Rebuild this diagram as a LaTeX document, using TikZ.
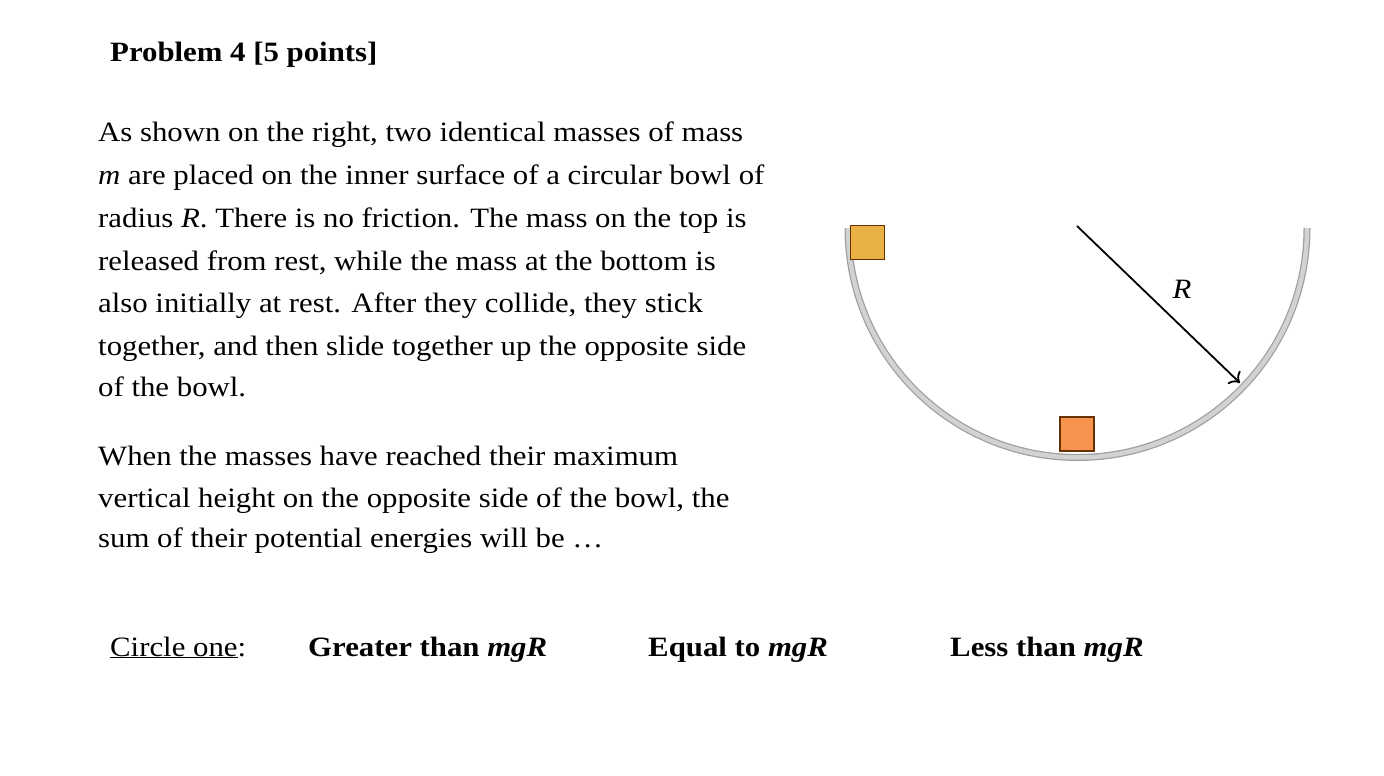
\documentclass[tikz,border=0pt]{standalone}
\usepackage{fontspec}
\setmainfont[FakeStretch=1.1]{Liberation Serif}
\usetikzlibrary{arrows.meta}
\begin{document}
\begin{tikzpicture}[x=1pt,y=-1pt,
  txt/.style={anchor=base west,inner sep=0pt,font=\fontsize{28}{30}\selectfont},
  ttl/.style={anchor=base west,inner sep=0pt,font=\fontsize{28}{30}\selectfont\bfseries},
  blk/.style={draw=black!60!orange,line width=1.6pt,minimum size=34pt,inner sep=0pt}]
\useasboundingbox (0,0) rectangle (1384,776);
\node[ttl] (t) at (110,62) {Problem 4 [5 points]};
\node[txt] (l1) at (98,141) {As shown on the right, two identical masses of mass};
\node[txt] (l2) at (98,184) {\textit{m} are placed on the inner surface of a circular bowl of};
\node[txt] (l3) at (98,227) {radius \textit{R}. There is no friction. The mass on the top is};
\node[txt] (l4) at (98,270) {released from rest, while the mass at the bottom is};
\node[txt] (l5) at (98,312) {also initially at rest. After they collide, they stick};
\node[txt] (l6) at (98,355) {together, and then slide together up the opposite side};
\node[txt] (l7) at (98,396) {of the bowl.};
\node[txt] (p1) at (98,465) {When the masses have reached their maximum};
\node[txt] (p2) at (98,507) {vertical height on the opposite side of the bowl, the};
\node[txt] (p3) at (98,547) {sum of their potential energies will be \dots};
\node[txt] (c0) at (110,656) {\underline{Circle one}:};
\node[ttl] (c1) at (308,656) {Greater than \textit{mgR}};
\node[ttl] (c2) at (648,656) {Equal to \textit{mgR}};
\node[ttl] (c3) at (950,656) {Less than \textit{mgR}};
% bowl
\coordinate (o) at (1077.5,228);
\draw[gray!75,line width=7pt] (848,228) arc[start angle=180,end angle=0,radius=229.5];
\draw[gray!35,line width=4.5pt] (848,228) arc[start angle=180,end angle=0,radius=229.5];
\node[blk,fill={rgb,255:red,232;green,176;blue,69}] (b1) at (867.5,242.5) {};
\node[blk,fill={rgb,255:red,247;green,147;blue,76}] (b2) at (1077,434) {};
\coordinate (e) at (1240,383);
\draw[-{To[length=9pt,width=18pt]},line width=1.8pt] (1077,226) -- (e);
\node[anchor=base,inner sep=0pt,font=\fontsize{28}{30}\selectfont\itshape] (r) at (1182,298) {R};
\end{tikzpicture}
\end{document}
